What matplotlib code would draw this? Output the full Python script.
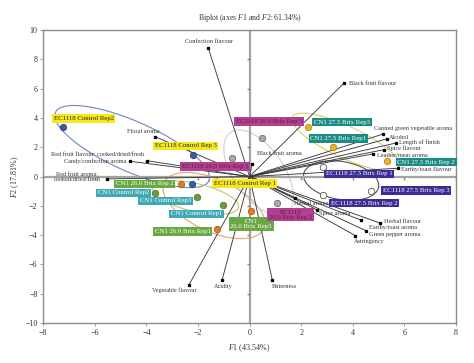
import numpy as np
import matplotlib
matplotlib.use("Agg")
import matplotlib.pyplot as plt

plt.rcParams['font.family'] = ['Liberation Serif', 'DejaVu Serif']
plt.rcParams['mathtext.fontset'] = 'custom'
plt.rcParams['mathtext.rm'] = 'Liberation Serif'
plt.rcParams['mathtext.it'] = 'Liberation Serif:italic'

# ---- variables (loadings) ----
var_names = ['Confection flavour', 'Black fruit flavour', 'Canned green vegetable aroma',
             'Alcohol', 'Length of finish', 'Spice flavour', 'Leather/meat aroma',
             'Earthy/toast flavour', 'Black fruit aroma', 'Floral aroma',
             'Red fruit flavour: cooked/dried/fresh', 'Candy/confection aroma',
             'Red fruit aroma:\ncooked/dried/fresh', 'Vegetable flavour', 'Acidity',
             'Bitterness', 'Herbal aroma', 'Spice aroma', 'Earthy/toast aroma',
             'Herbal flavour', 'Green pepper aroma', 'Astringency']
var_f1 = [-1.60, 3.65, 5.18, 5.31, 5.69, 5.21, 4.79, 5.76, 0.10, -3.67,
          -3.99, -4.65, -5.54, -2.35, -1.06, 0.88, 1.76, 2.62, 4.30, 5.04, 4.53, 4.10]
var_f2 = [8.78, 6.37, 2.91, 2.57, 2.30, 1.84, 1.55, 0.57, 0.87, 2.73,
          1.09, 1.05, -0.16, -7.39, -7.03, -7.05, -1.45, -2.27, -2.96, -3.16, -3.71, -4.03]

# ---- observations ----
obs_names = ['EC1118 Control Rep2', 'EC1118 Control Rep 3', 'EC1118 Control Rep 1',
             'CN1 27.5 Brix Rep3', 'CN1 27.5 Brix Rep1', 'CN1 27.5 Brix Rep 2',
             'EC1118 27.5 Brix Rep 1', 'EC1118 27.5 Brix Rep 3', 'EC1118 27.5 Brix Rep 2',
             'CN1 Control Rep2', 'CN1 Control Rep3', 'CN1 Control Rep1',
             'CN1 26.0 Brix Rep 2', 'CN1 26.0 Brix Rep1', 'CN1\n26.0 Brix Rep3',
             'EC1118 26.0 Brix Rep 3', 'EC1118 26.0 Brix Rep 1', 'EC1118\n26.0 Brix Rep 2']
obs_f1 = [-7.22, -2.18, -2.25, 2.26, 3.24, 5.34, 2.84, 4.72, 2.84,
          -3.68, -2.03, -1.02, -2.66, -1.28, 0.04, 0.49, -0.67, 1.07]
obs_f2 = [3.37, 1.50, -0.53, 3.41, 2.00, 1.07, 0.63, -1.00, -1.23,
          -1.11, -1.37, -1.96, -0.53, -3.57, -2.32, 2.63, 1.30, -1.80]
obs_group = [0, 0, 0, 1, 1, 1, 2, 2, 2, 3, 3, 3, 4, 4, 4, 5, 5, 5]

# group styles: marker face, marker edge, label box, label text, ellipse colour
grp_face = ['#3b5ca3', '#e8b424', '#ffffff', '#6d9b3d', '#e07c24', '#a9a9a9']
grp_edge = ['#2c4680', '#b08a1a', '#555555', '#4f7a2a', '#b05e18', '#6e6e6e']
grp_box = ['#f7e81e', '#1b8b84', '#3b2d96', '#40aab4', '#6aa843', '#b2408f']
grp_txt = ['#222222', '#ffffff', '#ffffff', '#ffffff', '#ffffff', '#5e1c4e']
grp_ell = ['#6f86c0', '#e3cc6a', '#555555', '#b9cc6c', '#e8a468', '#cfcfcf']

# ellipse per group: centre (F1, F2), semi-axes (px on screen), screen angle
ell_cx = [-4.55, 3.72, 3.55, -2.09, -1.38, 0.35]
ell_cy = [2.05, 2.36, -0.27, -1.43, -1.98, 0.27]
ell_a = [84, 59, 38, 44, 55, 49]
ell_b = [25, 16, 19, 14, 26, 25]
ell_ang = [-24, -25, -10, -13, -25, -55]

# label placement (text anchor in data units)
var_lab = [(-1.59, 9.24, 'center'), (3.84, 6.37, 'left'), (4.84, 3.30, 'left'),
           (5.39, 2.70, 'left'), (5.78, 2.32, 'left'), (5.31, 1.91, 'left'),
           (4.92, 1.47, 'left'), (5.88, 0.48, 'left'), (0.27, 1.59, 'left'),
           (-4.11, 3.07, 'center'), (-4.11, 1.48, 'right'), (-4.77, 1.04, 'right'),
           (-6.67, -0.02, 'center'), (-2.91, -7.73, 'center'), (-1.01, -7.51, 'center'),
           (0.88, -7.49, 'left'), (1.71, -1.84, 'left'), (2.71, -2.51, 'left'),
           (4.61, -3.50, 'left'), (5.21, -3.09, 'left'), (4.61, -3.94, 'left'),
           (4.03, -4.44, 'left')]
obs_lab = [(-6.43, 3.96), (-2.48, 2.10), (-0.19, -0.48), (3.58, 3.71), (3.44, 2.61),
           (6.84, 0.98), (4.24, 0.18), (6.45, -0.96), (4.45, -1.81), (-4.88, -1.11),
           (-3.27, -1.65), (-2.05, -2.55), (-4.07, -0.50), (-2.59, -3.75), (0.06, -3.24),
           (0.75, 3.77), (-1.34, 0.68), (1.59, -2.59)]

xticks = np.arange(-8, 9, 2)
yticks = np.arange(-10, 11, 2)

fig = plt.figure(figsize=(4.74, 3.63), dpi=100)
ax = fig.add_axes([0.091, 0.110, 0.871, 0.807])
ax.set_xlim(-8, 8)
ax.set_ylim(-10, 10)

# pixels per data unit, used to draw ellipses round on screen
sx = 0.871 * 474 / 16.0
sy = 0.807 * 363 / 20.0

t = np.linspace(0, 2 * np.pi, 200)
for g in range(6):
    th = np.radians(ell_ang[g])
    ex = ell_a[g] * np.cos(t) * np.cos(th) - ell_b[g] * np.sin(t) * np.sin(th)
    ey = ell_a[g] * np.cos(t) * np.sin(th) + ell_b[g] * np.sin(t) * np.cos(th)
    ax.plot(ell_cx[g] + ex / sx, ell_cy[g] + ey / sy, color=grp_ell[g], lw=0.8, zorder=1)

# zero axes with small ticks
ax.axhline(0, color='#a3a3a3', lw=1.6, zorder=2)
ax.axvline(0, color='#a3a3a3', lw=1.6, zorder=2)
ax.plot(np.zeros(len(yticks)), yticks, ls='none', marker=0, ms=2, color='#8a8a8a', zorder=2)
ax.plot(xticks, np.zeros(len(xticks)), ls='none', marker=3, ms=2, color='#8a8a8a', zorder=2)

# variable vectors
for i in range(len(var_names)):
    ax.plot([0, var_f1[i]], [0, var_f2[i]], color='#3a3a3a', lw=0.65, zorder=3)
    ax.plot(var_f1[i], var_f2[i], 's', ms=1.4, color='black', zorder=4)
    lx, ly, ha = var_lab[i]
    ax.text(lx, ly, var_names[i], fontsize=4.5, ha=ha, va='center', color='#333333',
            linespacing=1.1, zorder=6)

# observations
for i in range(len(obs_names)):
    g = obs_group[i]
    ax.plot(obs_f1[i], obs_f2[i], 'o', ms=4.6, mfc=grp_face[g], mec=grp_edge[g],
            mew=0.6, zorder=5)
    lx, ly = obs_lab[i]
    ax.text(lx, ly, obs_names[i], fontsize=4.9, ha='center', va='center',
            color=grp_txt[g], linespacing=1.0, zorder=7,
            bbox=dict(boxstyle='square,pad=0.25', fc=grp_box[g], ec='none'))

for s in ax.spines.values():
    s.set_color('#8c8c8c')
    s.set_linewidth(1.0)
ax.set_xticks(xticks)
ax.set_yticks(yticks)
ax.tick_params(direction='out', length=2, width=0.6, color='#8c8c8c',
               labelsize=5.8, labelcolor='#333333', pad=2)

ax.set_title('Biplot (axes $F$1 and $F$2: 61.34%)', fontsize=5.6, color='#333333', pad=7)
ax.set_xlabel('$F$1 (43.54%)', fontsize=5.8, color='#333333', labelpad=4)
ax.set_ylabel('$F$2 (17.81%)', fontsize=5.8, color='#333333', labelpad=3)

fig.savefig('out.png', dpi=100)
